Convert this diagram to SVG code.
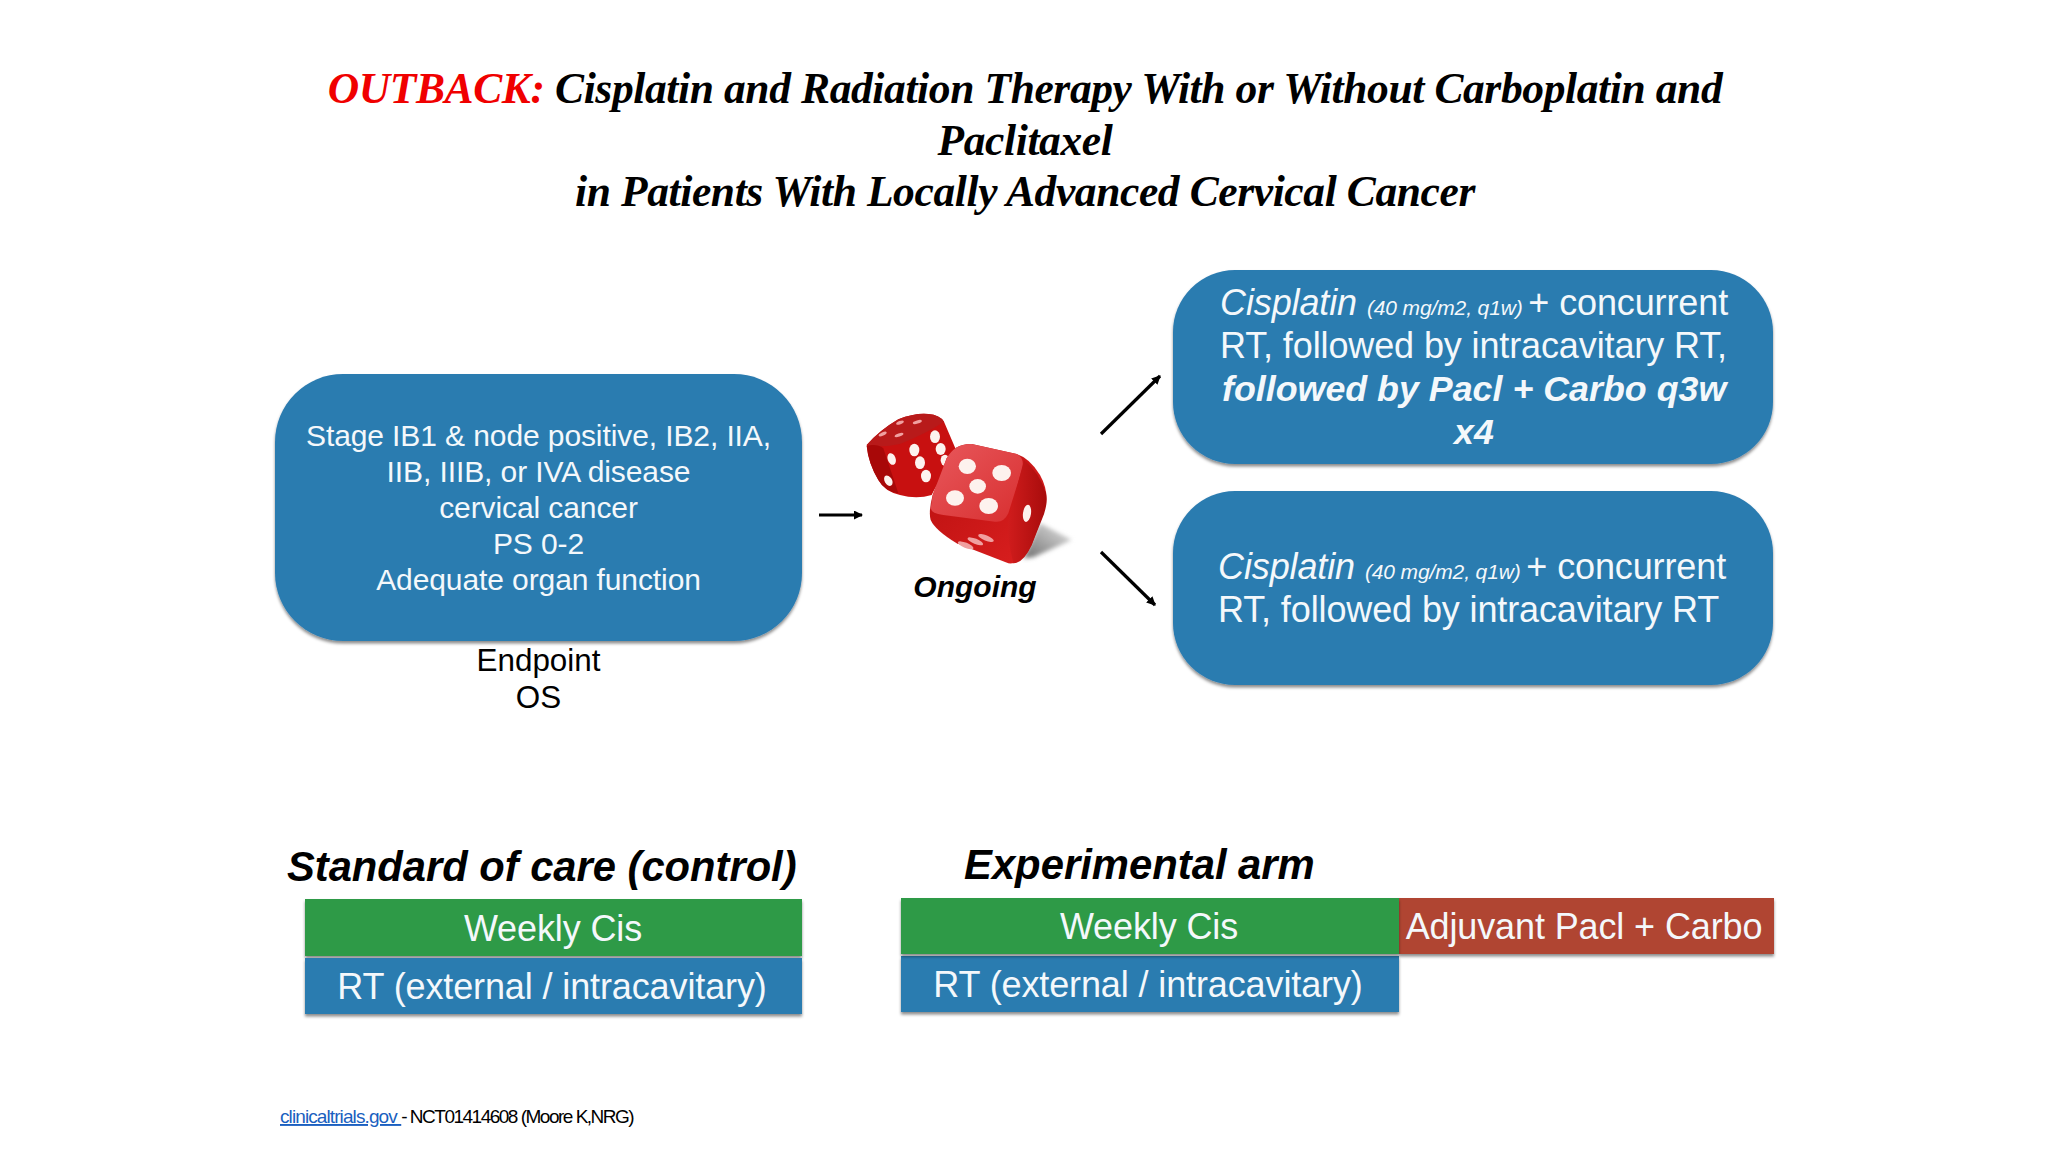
<svg xmlns="http://www.w3.org/2000/svg" width="2048" height="1152" viewBox="0 0 2048 1152">
<style>
.s{font-family:"Liberation Sans",Arial,sans-serif}
.t{font-family:"Liberation Serif","Times New Roman",serif;font-weight:bold;font-style:italic;font-size:43.5px;letter-spacing:-.39px;fill:#000;text-anchor:middle}
.w{fill:#f4f8fb}
.b{fill:#2c7bb0;filter:url(#sh)}
.g{fill:#2f9a47;filter:url(#sh)}
.r{fill:#b04433;filter:url(#sh)}
.c{stroke:#000;stroke-width:3.2;fill:none;marker-end:url(#ah)}
.p{fill:#fdf2ee}
.q{fill:#f0a0a0}
</style>
<defs>
<filter id="sh" x="-5%" y="-5%" width="110%" height="115%"><feDropShadow dx="0" dy="2.5" stdDeviation="1.8" flood-color="#000" flood-opacity="0.45"/></filter>
<filter id="bl" x="-30%" y="-30%" width="160%" height="160%"><feGaussianBlur stdDeviation="7"/></filter>
<marker id="ah" markerUnits="userSpaceOnUse" markerWidth="10" markerHeight="10" refX="8" refY="4.5" orient="auto"><path d="M0 0L9 4.5L0 9Z" fill="#000"/></marker>
<linearGradient id="f1" x1="0" y1="0" x2="1" y2="1"><stop offset="0" stop-color="#e8585c"/><stop offset="1" stop-color="#d82f30"/></linearGradient>
<linearGradient id="f2" x1="0" y1="0" x2="1" y2="0"><stop offset="0" stop-color="#d01c1c"/><stop offset="1" stop-color="#a80c0c"/></linearGradient>
<linearGradient id="f3" x1="0" y1="0" x2="1" y2="1"><stop offset="0" stop-color="#b80f0f"/><stop offset="1" stop-color="#dc2020"/></linearGradient>
<linearGradient id="sd" x1="0" y1="1" x2="1" y2="0"><stop offset="0" stop-color="#707070"/><stop offset="1" stop-color="#e8e8e8"/></linearGradient>
</defs>
<rect width="2048" height="1152" fill="#fff"/>
<g id="title">
<text class="t" x="1025" y="103"><tspan fill="#f00000">OUTBACK: </tspan>Cisplatin and Radiation Therapy With or Without Carboplatin and</text>
<text class="t" x="1025" y="155">Paclitaxel</text>
<text class="t" x="1025" y="206">in Patients With Locally Advanced Cervical Cancer</text>
</g>
<g id="connectors">
<path class="c" d="M819 515H862"/>
<path class="c" d="M1101 434L1160 376"/>
<path class="c" d="M1101 552L1155 605"/>
</g>
<g id="eligibility">
<rect class="b" x="275" y="374" width="527" height="267" rx="68"/>
<g class="s w" font-size="30" letter-spacing="-.1" text-anchor="middle">
<text x="538.500" y="446">Stage IB1 &amp; node positive, IB2, IIA,</text>
<text x="538.500" y="482">IIB, IIIB, or IVA disease</text>
<text x="538.500" y="518">cervical cancer</text>
<text x="538.500" y="554">PS 0-2</text>
<text x="538.500" y="590">Adequate organ function</text>
</g>
</g>
<g id="endpoint" class="s" font-size="31.400" text-anchor="middle" fill="#000">
<text x="538.500" y="671">Endpoint</text>
<text x="538.500" y="708">OS</text>
</g>
<g id="dice" transform="translate(800 380) scale(.33333)">
<path d="M720 430L815 480L700 532L670 535Z" fill="url(#sd)" filter="url(#bl)"/>
<path d="M200 195Q240 150 295 118Q345 98 385 102Q420 105 432 125L466 205L395 345Q350 358 300 345Q255 335 235 300Q205 250 200 195Z" fill="#c81010"/>
<path d="M200 195Q240 150 295 118Q345 98 385 102Q420 105 432 125Q380 160 300 192Q245 205 200 195Z" fill="#b81a1a"/>
<path d="M200 198Q230 190 250 205L295 340Q255 335 235 300Q205 250 200 198Z" fill="#a80808"/>
<ellipse class="q" cx="300" cy="128" rx="12" ry="5" transform="rotate(-20 300 128)"/>
<ellipse class="q" cx="352" cy="126" rx="14" ry="5" transform="rotate(-15 352 126)"/>
<ellipse class="q" cx="248" cy="162" rx="13" ry="5" transform="rotate(-25 248 162)"/>
<ellipse class="q" cx="297" cy="165" rx="14" ry="5" transform="rotate(-20 297 165)"/>
<ellipse class="p" cx="275" cy="237" rx="12" ry="18" transform="rotate(-20 275 237)"/>
<ellipse class="p" cx="265" cy="302" rx="11" ry="17" transform="rotate(-30 265 302)"/>
<ellipse class="p" cx="405" cy="170" rx="15" ry="19"/>
<ellipse class="p" cx="422" cy="207" rx="15" ry="18"/>
<ellipse class="p" cx="435" cy="241" rx="13" ry="17"/>
<ellipse class="p" cx="343" cy="210" rx="15" ry="19"/>
<ellipse class="p" cx="360" cy="248" rx="15" ry="19"/>
<ellipse class="p" cx="378" cy="288" rx="15" ry="19"/>
<path d="M515 192L650 222Q690 235 720 285Q745 330 738 375L695 495Q665 555 625 550L470 490Q405 450 392 420Q385 395 398 345L440 235Q465 190 515 192Z" fill="url(#f3)"/>
<path d="M515 192L650 222Q672 232 668 262L625 400Q612 428 585 425L430 405Q395 402 392 385L398 345L440 235Q465 190 515 192Z" fill="url(#f1)"/>
<path d="M672 240Q720 280 738 340Q745 375 725 420L695 495Q670 550 640 550Q620 470 625 420Z" fill="url(#f2)"/>
<ellipse class="p" cx="502" cy="259" rx="26" ry="23"/>
<ellipse class="p" cx="605" cy="279" rx="28" ry="24"/>
<ellipse class="p" cx="533" cy="319" rx="25" ry="22"/>
<ellipse class="p" cx="465" cy="354" rx="27" ry="23"/>
<ellipse class="p" cx="566" cy="378" rx="28" ry="24"/>
<ellipse class="p" cx="681" cy="400" rx="12" ry="26" transform="rotate(8 681 400)"/>
<ellipse class="q" cx="497" cy="496" rx="25" ry="8" transform="rotate(22 497 496)"/>
<ellipse class="q" cx="526" cy="484" rx="25" ry="8" transform="rotate(22 526 484)"/>
<ellipse class="q" cx="558" cy="474" rx="25" ry="8" transform="rotate(22 558 474)"/>
</g>
<g id="ongoing"><text class="s" x="975" y="597" font-size="30" font-weight="bold" font-style="italic" text-anchor="middle" fill="#000">Ongoing</text></g>
<g id="arm-a">
<rect class="b" x="1173" y="270" width="600" height="194" rx="62"/>
<g class="s w" font-size="36" letter-spacing="-.12">
<text x="1220" y="315"><tspan font-style="italic">Cisplatin </tspan><tspan font-size="21" font-style="italic">(40 mg/m2, q1w) </tspan>+ concurrent</text>
<text x="1220" y="358">RT, followed by intracavitary RT,</text>
<text x="1222" y="401" font-weight="bold" font-style="italic" font-size="35.800" letter-spacing="0">followed by Pacl + Carbo q3w</text>
<text x="1474" y="444" font-weight="bold" font-style="italic" font-size="35.800" letter-spacing="0" text-anchor="middle">x4</text>
</g>
</g>
<g id="arm-b">
<rect class="b" x="1173" y="491" width="600" height="194" rx="62"/>
<g class="s w" font-size="36" letter-spacing="-.12">
<text x="1218" y="579"><tspan font-style="italic">Cisplatin </tspan><tspan font-size="21" font-style="italic">(40 mg/m2, q1w) </tspan>+ concurrent</text>
<text x="1218" y="622">RT, followed by intracavitary RT</text>
</g>
</g>
<g id="control">
<text class="s" x="287" y="881" font-size="41.700" font-weight="bold" font-style="italic" fill="#000">Standard of care (control)</text>
<rect class="g" x="305" y="899" width="497" height="57"/>
<rect class="b" x="305" y="958" width="497" height="56"/>
<g class="s w" font-size="36" letter-spacing="-.12" text-anchor="middle">
<text x="553" y="941">Weekly Cis</text>
<text x="552" y="999">RT (external / intracavitary)</text>
</g>
</g>
<g id="experimental">
<text class="s" x="964" y="879" font-size="41.800" font-weight="bold" font-style="italic" fill="#000">Experimental arm</text>
<rect class="b" x="901" y="956" width="498" height="56"/>
<rect class="r" x="1399" y="898" width="375" height="56"/>
<rect class="g" x="901" y="898" width="498" height="56"/>
<g class="s w" font-size="36" letter-spacing="-.12" text-anchor="middle">
<text x="1149" y="939">Weekly Cis</text>
<text x="1148" y="997">RT (external / intracavitary)</text>
<text x="1584" y="939">Adjuvant Pacl + Carbo</text>
</g>
</g>
<g id="source"><text class="s" x="280" y="1123" font-size="19" letter-spacing="-1.5" fill="#000" xml:space="preserve"><tspan fill="#1a5fc0" text-decoration="underline" letter-spacing="-.9">clinicaltrials.gov </tspan>- NCT01414608 (Moore K,NRG)</text></g>
</svg>
